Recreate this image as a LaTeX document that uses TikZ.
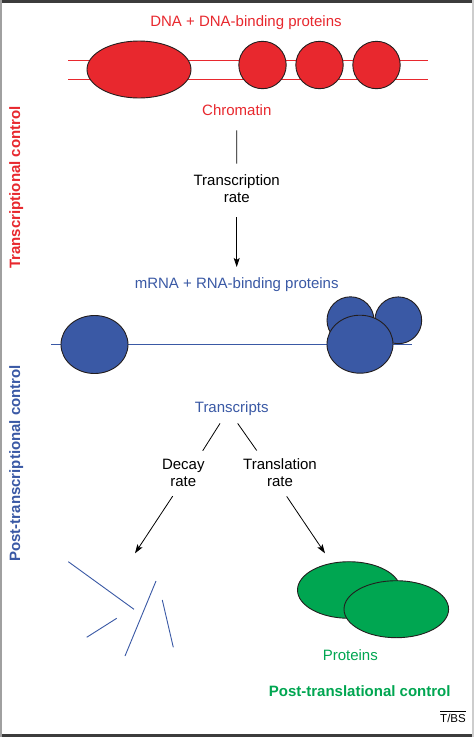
\documentclass[tikz,border=0pt]{standalone}
\usepackage{fontspec}
\setmainfont{Liberation Sans}
\usetikzlibrary{arrows.meta,calc}
\definecolor{dred}{RGB}{232,40,46}
\definecolor{dblue}{RGB}{58,89,165}
\definecolor{dgreen}{RGB}{0,166,81}
\definecolor{outl}{RGB}{35,30,30}
\definecolor{frametop}{RGB}{60,60,60}
\definecolor{frameleft}{RGB}{160,160,160}
\definecolor{frameright}{RGB}{205,205,205}
\begin{document}
\begin{tikzpicture}[x=1pt,y=-1pt,
  lbl/.style={inner sep=0pt,font=\fontsize{15}{17}\selectfont},
  lblb/.style={lbl,anchor=base},
  two/.style={lbl,align=center},
  ctl/.style={inner sep=0pt,font=\fontsize{15}{17}\selectfont\bfseries,anchor=base},
  prot/.style={draw=outl,line width=0.9pt},
  conn/.style={draw=black,line width=0.8pt},
  arr/.style={conn,-{Stealth[length=9pt,width=6pt,inset=2pt]}},
  frag/.style={draw=dblue,line width=0.9pt},
]
\useasboundingbox (0,0) rectangle (474,737);
% frame
\fill[white] (0,0) rectangle (474,737);
\fill[frametop] (0,0) rectangle (474,2.7);
\fill[frametop] (0,734) rectangle (474,737);
\fill[frameleft] (0,0) rectangle (2,737);
\fill[frameright] (472,0) rectangle (474,737);

% DNA + proteins
\draw[dred,line width=0.9pt] (68,60.7) -- (428,60.7);
\draw[dred,line width=0.9pt] (68,79) -- (428,79);
\draw[prot,fill=dred] (139,69.5) ellipse [x radius=52pt,y radius=28.5pt];
\draw[prot,fill=dred] (262.5,65) circle [radius=23.7pt];
\draw[prot,fill=dred] (319.5,65) circle [radius=23.7pt];
\draw[prot,fill=dred] (376.5,65) circle [radius=23.7pt];

% mRNA + proteins
\draw[dblue,line width=0.9pt] (51,344.3) -- (412,344.3);
\draw[prot,fill=dblue] (94.5,344.5) ellipse [x radius=33.5pt,y radius=29pt];
\draw[prot,fill=dblue] (350.5,320.3) circle [radius=23.5pt];
\draw[prot,fill=dblue] (398.3,320.3) circle [radius=23.4pt];
\draw[prot,fill=dblue] (360,344.2) ellipse [x radius=33pt,y radius=29pt];

% fragments
\draw[frag] (68.3,561.7) -- (134,609.3);
\draw[frag] (86.7,637.3) -- (116.7,618.3);
\draw[frag] (125,656) -- (156,581);
\draw[frag] (162.3,600) -- (173.3,647.3);

% proteins
\draw[prot,fill=dgreen] (349,590) ellipse [x radius=51.5pt,y radius=28.3pt];
\draw[prot,fill=dgreen] (396.3,609.2) ellipse [x radius=52.3pt,y radius=28.5pt];

% labels
\node[lblb,text=dred] (dnat) at (246,26.7) {DNA + DNA-binding proteins};
\node[lblb,text=dred] (chrom) at (236.8,115) {Chromatin};
\node[two] (trate) at (236.7,188.8) {Transcription\\rate};
\node[lblb,text=dblue] (mrna) at (236.7,288) {mRNA + RNA-binding proteins};
\node[lblb,text=dblue] (tr) at (231.7,412.7) {Transcripts};
\node[two] (decay) at (183.3,472.9) {Decay\\rate};
\node[two] (trl) at (280,472.9) {Translation\\rate};
\node[lblb,text=dgreen] (prots) at (350.3,660.7) {Proteins};
\node[ctl,text=dgreen] (ptl) at (359.7,696.7) {Post-translational control};
\node[ctl,text=dred,rotate=90] (tc) at (20,187.5) {Transcriptional control};
\node[ctl,text=dblue,rotate=90] (ptc) at (20,463.3) {Post-transcriptional control};
\node[inner sep=0pt,anchor=base,font=\fontsize{11.5}{13}\selectfont] (tibs) at (453,722) {T/BS};
\draw[line width=0.6pt] ($(tibs.north west)+(0,-2.5)$) -- ($(tibs.north east)+(0,-2.5)$);

% connectors
\coordinate (decend) at (135,553.3);
\coordinate (trlend) at (325,553.3);
\draw[conn,shorten <=15pt,shorten >=11pt] (chrom.south) -- (trate.north);
\draw[arr,shorten <=14.3pt,shorten >=10pt] (trate.south) -- (mrna.north);
\draw[conn] ($(tr.south)+(-11.7,7.4)$) -- ($(decay.north)+(19.4,-8.2)$);
\draw[conn] ($(tr.south)+(6,7.4)$) -- ($(trl.north)+(-23.3,-8.2)$);
\draw[arr] ($(decay.south)+(-10.6,9.3)$) -- (decend);
\draw[arr] ($(trl.south)+(6.7,9.3)$) -- (trlend);
\end{tikzpicture}
\end{document}
